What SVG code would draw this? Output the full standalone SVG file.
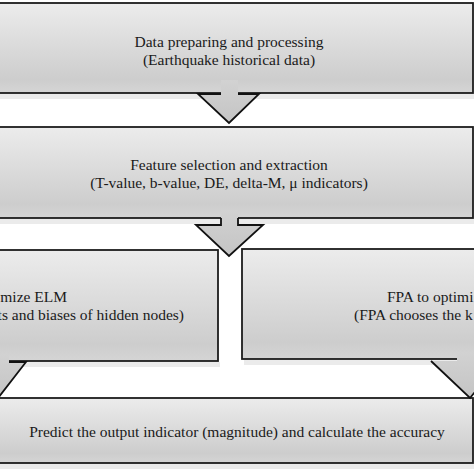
<svg xmlns="http://www.w3.org/2000/svg" width="474" height="474" viewBox="0 0 474 474">
<defs>
<linearGradient id="g" x1="0" y1="0" x2="0" y2="1">
<stop offset="0" stop-color="#ececec"/>
<stop offset="0.85" stop-color="#cdcdcd"/>
<stop offset="1" stop-color="#d5d5d5"/>
</linearGradient>
<linearGradient id="ga" x1="0" y1="0" x2="0" y2="1">
<stop offset="0" stop-color="#d2d2d2"/>
<stop offset="1" stop-color="#c4c4c4"/>
</linearGradient>
</defs>
<style>
.box{fill:url(#g);stroke:#1c1c1c;stroke-width:1.8}
.sh{fill:#000;opacity:0.08}
.af{fill:url(#ga);stroke:none}
.as{fill:none;stroke:#111;stroke-width:1.8;stroke-linejoin:miter}
text{font-family:"Liberation Serif","Times New Roman",serif;font-size:15.5px;fill:#1a1a1a}
.c{text-anchor:middle}
</style>
<rect width="474" height="474" fill="#ffffff"/>
<g id="n1">
<rect class="sh" x="0" y="94" width="474" height="5"/>
<rect class="box" x="-2" y="3" width="475" height="90"/>
<text class="c" x="229" y="47">Data preparing and processing</text>
<text class="c" x="229" y="65">(Earthquake historical data)</text>
</g>
<g id="n2">
<rect class="sh" x="0" y="219" width="474" height="5"/>
<rect class="box" x="-2" y="127" width="475" height="91"/>
<text class="c" x="229" y="170">Feature selection and extraction</text>
<text class="c" x="229" y="188">(T-value, b-value, DE, delta-M, μ indicators)</text>
</g>
<g id="n3">
<rect class="sh" x="0" y="362" width="220" height="5"/>
<rect class="box" x="-20" y="250" width="238" height="111"/>
<text x="67" y="302" text-anchor="end">mize ELM</text>
<text x="184" y="320" text-anchor="end">ts and biases of hidden nodes)</text>
</g>
<g id="n4">
<rect class="sh" x="244" y="360" width="230" height="5"/>
<rect class="box" x="242" y="249" width="250" height="110"/>
<text x="387" y="302">FPA to optimi</text>
<text x="354" y="320">(FPA chooses the k</text>
</g>
<g id="n5">
<rect class="sh" x="0" y="464" width="474" height="5"/>
<rect class="box" x="-2" y="398" width="475" height="65"/>
<text class="c" x="237" y="437">Predict the output indicator (magnitude) and calculate the accuracy</text>
</g>
<g id="connectors">
<polygon class="af" points="221,80 238,80 238,94 259,94 229,123 198,94 221,94"/>
<polyline class="as" points="221,94 198,94 229,123 259,94 238,94"/>
<polygon class="af" points="221,210 238,210 238,225 263,225 229,256 196,225 221,225"/>
<polyline class="as" points="221,218 221,225 196,225 229,256 263,225 238,225 238,218"/>
<polygon class="af" points="-20,354 9,354 9,362 26,362 -2,398 -20,398"/>
<polyline class="as" points="9,362 26,362 -2,398"/>
<polygon class="af" points="457,352 480,352 480,388 470,398 431,361 457,361"/>
<polyline class="as" points="431,361 470,398 479,387"/>
</g>
</svg>
